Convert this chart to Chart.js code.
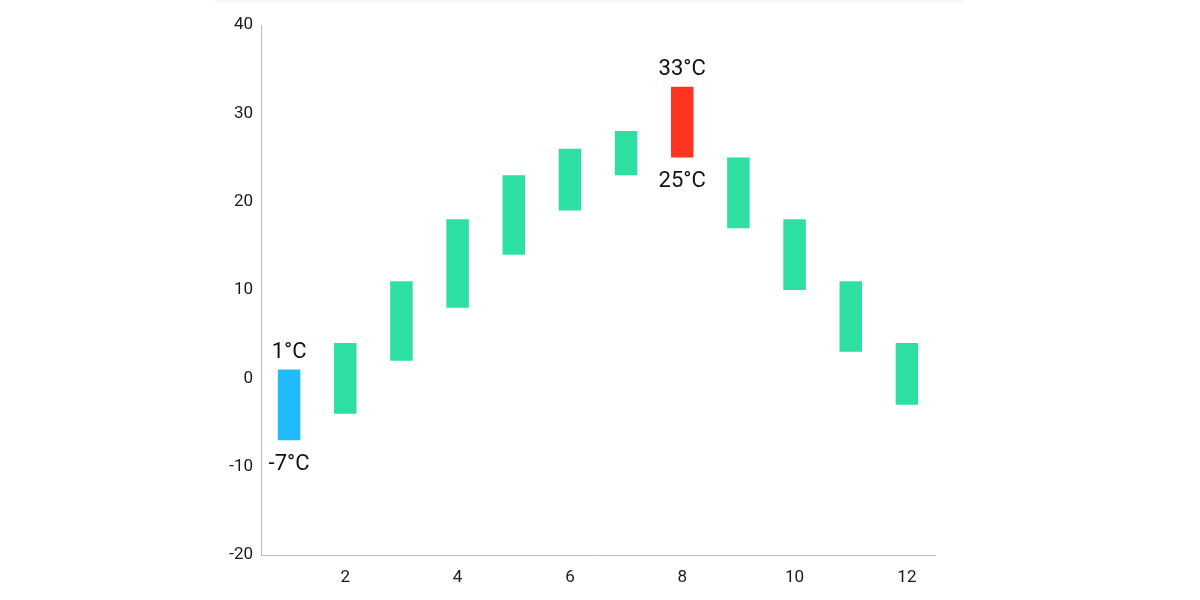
<!DOCTYPE html>
<html>
<head>
<meta charset="utf-8">
<title>Monthly temperature range</title>
<script src="https://cdn.jsdelivr.net/npm/chart.js@4"></script>
<style>
    html, body { margin: 0; padding: 0; background: #fff; }
    .card-edge {
        position: absolute; left: 213px; top: -10px; width: 752px; height: 10px;
        box-shadow: 0 1px 4px rgba(0, 0, 0, 0.06);
    }
    .wrap { position: absolute; left: 0; top: 0; width: 1200px; height: 600px; }
</style>
</head>
<body>
<div class="card-edge"></div>
<div class="wrap"><canvas id="tempChart"></canvas></div>
<script>
// Data
const months = [1, 2, 3, 4, 5, 6, 7, 8, 9, 10, 11, 12];
const lows  = [-7, -4, 2, 8, 14, 19, 23, 25, 17, 10, 3, -3];
const highs = [1, 4, 11, 18, 23, 26, 28, 33, 25, 18, 11, 4];
const yTicks = [-20, -10, 0, 10, 20, 30, 40];

const GREEN = '#2ddfa0';
const BLUE = '#21bbfb';
const RED = '#ff3421';

// coldest and warmest month get their own colour and labels
const coldest = lows.indexOf(Math.min(...lows));
const warmest = highs.indexOf(Math.max(...highs));
const barColors = months.map((m, i) => i === coldest ? BLUE : (i === warmest ? RED : GREEN));

// Draws the "1°C" / "-7°C" style labels above and below the extreme bars
const extremeLabels = {
    id: 'extremeLabels',
    afterDatasetsDraw(chart) {
        const ctx = chart.ctx;
        const meta = chart.getDatasetMeta(0);
        ctx.save();
        ctx.font = '22px Roboto';
        ctx.fillStyle = '#111';
        ctx.textAlign = 'center';
        ctx.textBaseline = 'middle';
        [coldest, warmest].forEach(i => {
            const bar = meta.data[i];
            const yTop = chart.scales.y.getPixelForValue(highs[i]);
            const yBot = chart.scales.y.getPixelForValue(lows[i]);
            ctx.fillText(highs[i] + '°C', bar.x, yTop - 17);
            ctx.fillText(lows[i] + '°C', bar.x, yBot + 24);
        });
        ctx.restore();
    }
};

Chart.defaults.font.family = 'Roboto';
Chart.defaults.font.size = 17;
Chart.defaults.color = '#1a1a1a';

new Chart(document.getElementById('tempChart'), {
    type: 'bar',
    data: {
        labels: months,
        datasets: [{
            data: months.map((m, i) => [lows[i], highs[i]]),
            backgroundColor: barColors,
            borderWidth: 0,
            borderSkipped: false,
            barPercentage: 0.4,
            categoryPercentage: 1
        }]
    },
    options: {
        responsive: true,
        maintainAspectRatio: false,
        animation: false,
        layout: { padding: { left: 215, right: 265, top: 25, bottom: 12 } },
        plugins: { legend: { display: false }, tooltip: { enabled: false } },
        scales: {
            x: {
                grid: { display: false },
                border: { color: '#bbb', width: 1 },
                ticks: {
                    autoSkip: false,
                    maxRotation: 0,
                    padding: 5,
                    callback: (v, i) => (months[i] % 2 === 0 ? months[i] : '')
                },
                afterFit: s => { s.height = 33; }
            },
            y: {
                min: -20,
                max: 40,
                grid: { display: false },
                border: { color: '#bbb', width: 1 },
                afterBuildTicks: s => { s.ticks = yTicks.map(v => ({ value: v })); },
                ticks: { padding: 0 },
                afterFit: s => { s.width = 46; }
            }
        }
    },
    plugins: [extremeLabels]
});
</script>
</body>
</html>
